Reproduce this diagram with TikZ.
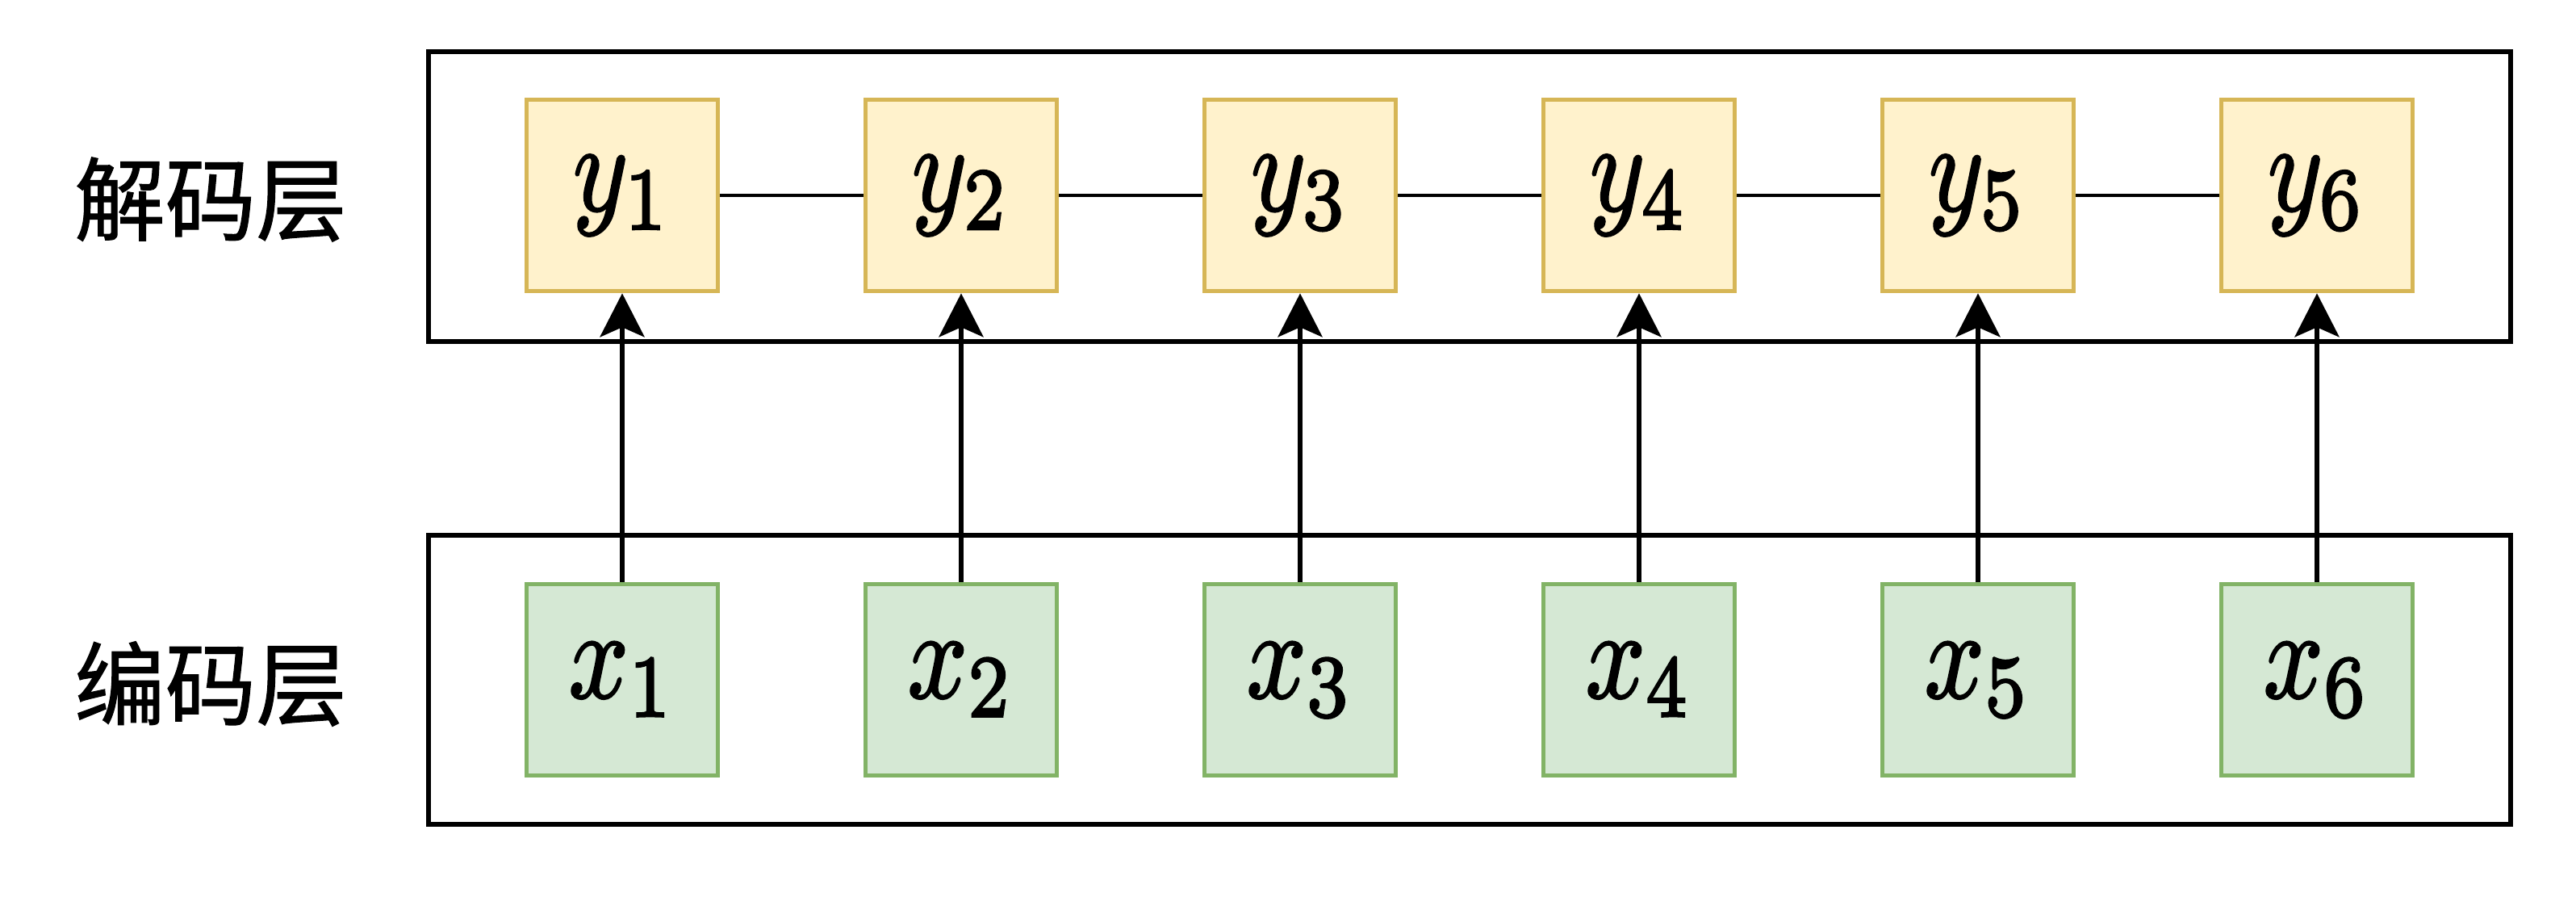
\documentclass[tikz,border=0pt]{standalone}
\usepackage{graphicx}
\usepackage{fontspec}
\newfontfamily\cjk[FakeBold=1]{Noto Sans CJK SC}
\usetikzlibrary{arrows.meta}
\definecolor{yfill}{HTML}{FFF2CC}
\definecolor{ydraw}{HTML}{D6B656}
\definecolor{gfill}{HTML}{D5E8D4}
\definecolor{gdraw}{HTML}{82B366}
\newcommand{\bigmath}[1]{{\fontsize{10}{12}\selectfont\scalebox{3.7}[4.45]{\special{pdf:literal direct 0 G 0.18 w 2 Tr}$#1$\special{pdf:literal direct 0 Tr}}}}
\tikzset{
  layerbox/.style={draw=black, line width=1.7pt},
  ybox/.style={draw=ydraw, fill=yfill, line width=1.6pt, minimum width=2.37cm, minimum height=2.37cm, inner sep=0pt},
  xbox/.style={draw=gdraw, fill=gfill, line width=1.6pt, minimum width=2.37cm, minimum height=2.37cm, inner sep=0pt},
  layerlabel/.style={inner sep=0pt, font=\cjk\fontsize{32}{36}\selectfont},
  uparrow/.style={line width=1.7pt, -{Stealth[length=0.54cm, width=0.55cm, inset=0.12cm]}},
  hline/.style={line width=1.4pt}
}
\begin{document}
\begin{tikzpicture}
\useasboundingbox (0,0) rectangle (31.92,-11.10);
\fill[white] (0,0) rectangle (31.92,-11.10);
\node[layerbox, minimum width=25.8cm, minimum height=3.59cm, inner sep=0pt] (dec) at (18.21,-2.435) {};
\node[layerbox, minimum width=25.8cm, minimum height=3.58cm, inner sep=0pt] (enc) at (18.21,-8.42) {};
\node[layerlabel] (declabel) at (2.61,-2.47) {解码层};
\node[layerlabel] (enclabel) at (2.61,-8.47) {编码层};
\foreach \i in {1,...,6} {
  \pgfmathsetmacro{\xc}{7.71+4.20*(\i-1)}
  \node[ybox] (y\i) at (\xc,-2.42) {\bigmath{y_{\i}}};
  \node[xbox] (x\i) at (\xc,-8.42) {\bigmath{x_{\i}}};
}
\foreach \i in {1,...,6} {
  \draw[uparrow] (x\i.north) -- (y\i.south);
}
\foreach \i/\j in {1/2,2/3,3/4,4/5,5/6} {
  \draw[hline] (y\i.east) -- (y\j.west);
}
\end{tikzpicture}
\end{document}
